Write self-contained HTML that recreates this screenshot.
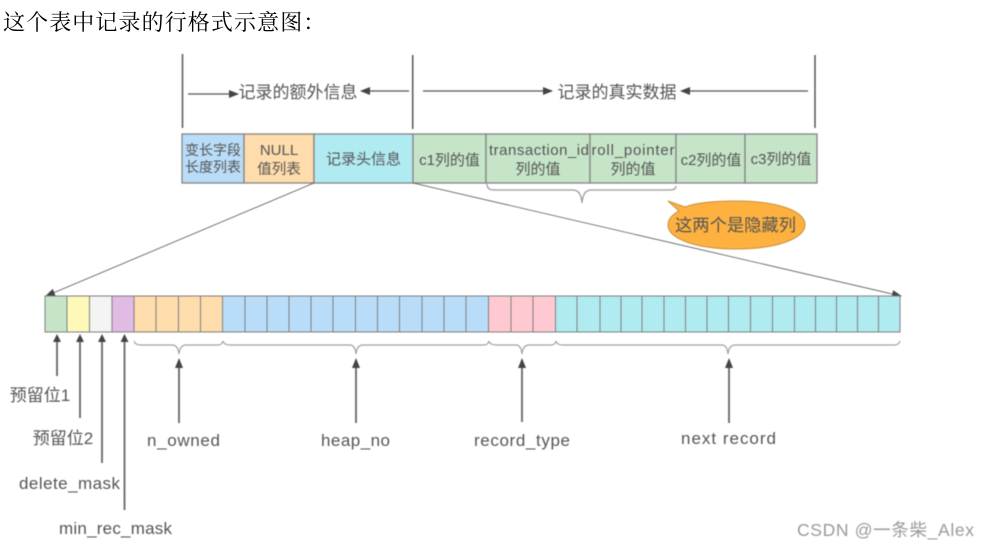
<!DOCTYPE html>
<html><head><meta charset="utf-8">
<style>
html,body{margin:0;padding:0;background:#fff;width:989px;height:548px;overflow:hidden}
svg{display:block}
text{font-family:"Liberation Sans","Noto Sans CJK SC",sans-serif;fill:#555;text-anchor:middle}
.d{filter:blur(0.45px)}
</style></head><body>
<svg width="989" height="548" viewBox="0 0 989 548" xmlns="http://www.w3.org/2000/svg">
<defs>
<marker id="a" markerWidth="10" markerHeight="8" refX="9" refY="4" orient="auto" markerUnits="userSpaceOnUse"><path d="M0 0L10 4L0 8z" fill="#444"/></marker>
</defs>
<text x="3" y="30" style="font-family:'Noto Serif CJK SC',serif;text-anchor:start;fill:#000;letter-spacing:1.1px" font-size="22">这个表中记录的行格式示意图：</text>
<g class="d">
<g stroke="#555" stroke-width="1.5">
<path d="M182.500 54V128M412.700 55V129M815 55V128"/>
</g>
<g stroke="#555" stroke-width="1.300" fill="none">
<path d="M188 94H238" marker-end="url(#a)"/>
<path d="M409 91H361" marker-end="url(#a)"/>
<path d="M423 91H552" marker-end="url(#a)"/>
<path d="M808 91H681" marker-end="url(#a)"/>
</g>
<text x="298" y="98" font-size="17">记录的额外信息</text>
<text x="617" y="98" font-size="17">记录的真实数据</text>
<g stroke="#848484" stroke-width="1.3">
<rect x="182" y="134" width="62" height="49" fill="#b9ddf8"/>
<rect x="244" y="134" width="70" height="49" fill="#fedcab"/>
<rect x="314" y="134" width="99" height="49" fill="#b0ebf2"/>
<rect x="413" y="134" width="73" height="49" fill="#c6e5c8"/>
<rect x="486" y="134" width="104" height="49" fill="#c6e5c8"/>
<rect x="590" y="134" width="86" height="49" fill="#c6e5c8"/>
<rect x="676" y="134" width="69" height="49" fill="#c6e5c8"/>
<rect x="745" y="134" width="72" height="49" fill="#c6e5c8"/>
</g>
<text x="213" y="155" font-size="14">变长字段</text>
<text x="213" y="172" font-size="14">长度列表</text>
<text x="279" y="155" font-size="15">NULL</text>
<text x="279" y="174" font-size="14.500">值列表</text>
<text x="363.500" y="164" font-size="15">记录头信息</text>
<text x="449.500" y="165" font-size="15">c1列的值</text>
<text x="539" y="155" font-size="15" textLength="100">transaction_id</text>
<text x="538" y="174" font-size="15">列的值</text>
<text x="633" y="155" font-size="15" textLength="83">roll_pointer</text>
<text x="633" y="174" font-size="15">列的值</text>
<text x="711" y="165" font-size="15">c2列的值</text>
<text x="781" y="164" font-size="15">c3列的值</text>
<path d="M487 184Q487 190 494 190H573Q581 190 582 203Q583 190 591 190H670Q676 190 676 186" fill="none" stroke="#999" stroke-width="1.2"/>
<path d="M668 201L685 207Q700 201 736 201C778 201 805 211 805 225C805 238 778 249 736 249C694 249 668 238 668 225Q668 217 679 211Z" fill="#feb13f" stroke="#c98f3a" stroke-width="1"/>
<text x="735.500" y="231" font-size="17.300">这两个是隐藏列</text>
<g stroke="#555" stroke-width="0.8" fill="none">
<path d="M314 183L46 296" marker-end="url(#a)"/>
<path d="M413 183L901 296" marker-end="url(#a)"/>
</g>
<g stroke="#808080" stroke-width="1">
<rect x="45" y="296" width="22" height="36" fill="#c6e5c8"/>
<rect x="67" y="296" width="22.500" height="36" fill="#fef8b9"/>
<rect x="89.500" y="296" width="22.500" height="36" fill="#f4f4f4"/>
<rect x="112" y="296" width="22" height="36" fill="#e0bbe4"/>
<rect x="134" y="296" width="22" height="36" fill="#fedcab"/>
<rect x="156" y="296" width="22.500" height="36" fill="#fedcab"/>
<rect x="178.500" y="296" width="22" height="36" fill="#fedcab"/>
<rect x="200.500" y="296" width="22" height="36" fill="#fedcab"/>
<rect x="222.500" y="296" width="22.500" height="36" fill="#b9ddf8"/>
<rect x="245" y="296" width="22" height="36" fill="#b9ddf8"/>
<rect x="267" y="296" width="22" height="36" fill="#b9ddf8"/>
<rect x="289" y="296" width="22" height="36" fill="#b9ddf8"/>
<rect x="311" y="296" width="22" height="36" fill="#b9ddf8"/>
<rect x="333" y="296" width="22.500" height="36" fill="#b9ddf8"/>
<rect x="355.500" y="296" width="22" height="36" fill="#b9ddf8"/>
<rect x="377.500" y="296" width="22" height="36" fill="#b9ddf8"/>
<rect x="399.500" y="296" width="22.500" height="36" fill="#b9ddf8"/>
<rect x="422" y="296" width="22" height="36" fill="#b9ddf8"/>
<rect x="444" y="296" width="22" height="36" fill="#b9ddf8"/>
<rect x="466" y="296" width="22.500" height="36" fill="#b9ddf8"/>
<rect x="488.500" y="296" width="22.500" height="36" fill="#ffc9d2"/>
<rect x="511" y="296" width="22" height="36" fill="#ffc9d2"/>
<rect x="533" y="296" width="22.500" height="36" fill="#ffc9d2"/>
<rect x="555.500" y="296" width="21.500" height="36" fill="#b0ebf2"/>
<rect x="577" y="296" width="23" height="36" fill="#b0ebf2"/>
<rect x="600" y="296" width="21" height="36" fill="#b0ebf2"/>
<rect x="621" y="296" width="21" height="36" fill="#b0ebf2"/>
<rect x="642" y="296" width="22" height="36" fill="#b0ebf2"/>
<rect x="664" y="296" width="21.500" height="36" fill="#b0ebf2"/>
<rect x="685.500" y="296" width="21.500" height="36" fill="#b0ebf2"/>
<rect x="707" y="296" width="21.500" height="36" fill="#b0ebf2"/>
<rect x="728.500" y="296" width="22" height="36" fill="#b0ebf2"/>
<rect x="750.500" y="296" width="22" height="36" fill="#b0ebf2"/>
<rect x="772.500" y="296" width="22" height="36" fill="#b0ebf2"/>
<rect x="794.500" y="296" width="21" height="36" fill="#b0ebf2"/>
<rect x="815.500" y="296" width="21" height="36" fill="#b0ebf2"/>
<rect x="836.500" y="296" width="21" height="36" fill="#b0ebf2"/>
<rect x="857.500" y="296" width="21" height="36" fill="#b0ebf2"/>
<rect x="878.500" y="296" width="21.500" height="36" fill="#b0ebf2"/>
</g>
<g fill="none" stroke="#a0a0a0" stroke-width="1.2">
<path d="M134 341Q135 345 141 345H172Q178 345 179 354Q180 345 186 345H218Q222 345 223 341"/>
<path d="M223 341Q224 345 230 345H350Q355 345 356 354Q357 345 363 345H484Q488 345 489 341"/>
<path d="M489 341Q490 345 496 345H516Q521 345 522 354Q523 345 529 345H551Q555 345 556 341"/>
<path d="M556 341Q557 345 563 345H722Q727 345 728 354Q729 345 735 345H894Q899 345 900 341"/>
</g>
<g stroke="#666" stroke-width="1.800" fill="none">
<path d="M57 376V340M80 418V340M102 463V340M124.500 510V340M179 423V364M356 423V364M522 422V364M729 423V364"/>
</g>
<g fill="#444">
<path d="M57 334L53 342H61zM80 334L76 342H84zM102 334L98 342H106zM124.500 334L120.500 342H128.500zM179 358L175 368H183zM356 358L352 368H360zM522 358L518 368H526zM729 358L725 368H733z"/>
</g>
<text x="40" y="401" font-size="17">预留位1</text>
<text x="63" y="444" font-size="17">预留位2</text>
<text x="69.500" y="489" font-size="17" textLength="101">delete_mask</text>
<text x="115.500" y="534" font-size="17" textLength="113">min_rec_mask</text>
<text x="183.500" y="446" font-size="17" textLength="73">n_owned</text>
<text x="355.500" y="446" font-size="17" textLength="69">heap_no</text>
<text x="522" y="446" font-size="17" textLength="96">record_type</text>
<text x="728.500" y="444" font-size="17" textLength="95">next record</text>
<text x="885.500" y="536" font-size="17.500" style="fill:#9a9a9a" textLength="177">CSDN @一条柴_Alex</text>
</g>
</svg>
</body></html>
